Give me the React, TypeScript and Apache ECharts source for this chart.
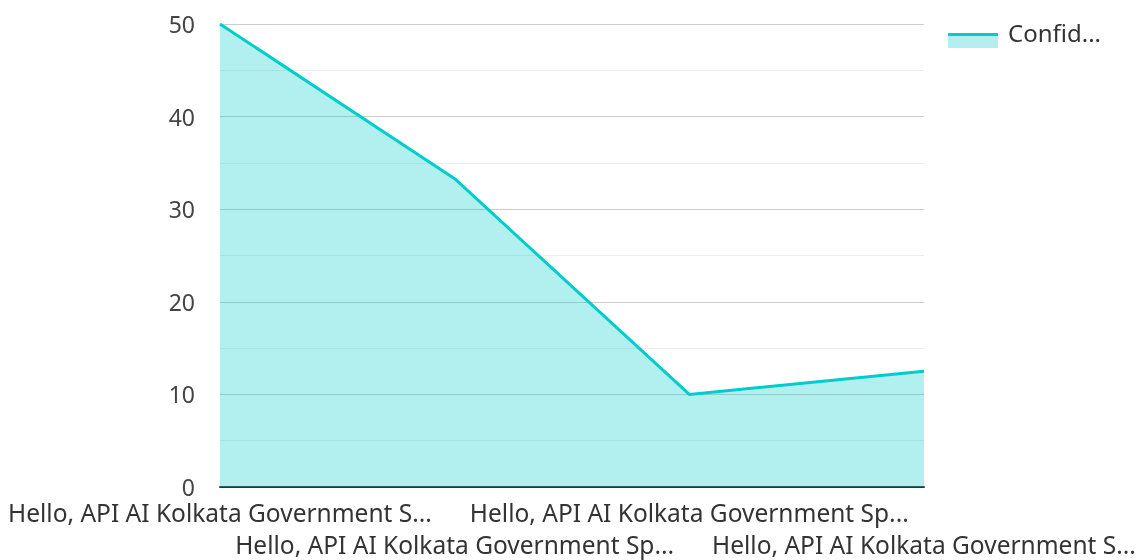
import React, { useEffect, useRef } from "react";
import * as echarts from "echarts";

const categories = [
  "Hello, API AI Kolkata Government S...",
  "Hello, API AI Kolkata Government Sp...",
  "Hello, API AI Kolkata Government Sp...",
  "Hello, API AI Kolkata Government S...",
];
const seriesName = "Confid...";
const values = [50, 33.3, 10, 12.5];
const yTicks = { min: 0, max: 50, interval: 10 };

const FONT = "'Noto Sans', sans-serif";
const LINE = "#00cccc";

export default function App() {
  const ref = useRef<HTMLDivElement>(null);
  useEffect(() => {
    document.body.style.margin = "0";
    document.body.style.overflow = "hidden";
    const chart = echarts.init(ref.current!, null, { renderer: "svg" });
    chart.setOption({
      animation: false,
      textStyle: { fontFamily: FONT },
      grid: { left: 220, right: 216, top: 24, bottom: 70, containLabel: false },
      legend: {
        show: true,
        left: 948,
        top: 15,
        icon: "rect",
        itemWidth: 50,
        itemHeight: 15,
        itemGap: 10,
        itemStyle: { opacity: 0 },
        textStyle: { fontFamily: FONT, fontSize: 24, color: "#333" },
        data: [seriesName],
      },
      xAxis: {
        type: "category",
        data: categories,
        boundaryGap: false,
        axisLine: { show: true, lineStyle: { color: "#333", width: 2 } },
        axisTick: { show: false },
        axisLabel: {
          interval: 0,
          fontFamily: FONT,
          fontSize: 24.5,
          color: "#333",
          lineHeight: 32,
          margin: 9,
          formatter: (v: string, i: number) => (i % 2 === 1 ? "\n" + v : v),
        },
      },
      yAxis: {
        type: "value",
        min: yTicks.min,
        max: yTicks.max,
        interval: yTicks.interval,
        axisLine: { show: false },
        axisTick: { show: false },
        axisLabel: { fontFamily: FONT, fontSize: 23, lineHeight: 14, color: "#444", margin: 25 },
        splitLine: { show: true, lineStyle: { color: "#cccccc", width: 1 } },
        minorTick: { show: false, splitNumber: 2 },
        minorSplitLine: { show: true, lineStyle: { color: "#eeeeee", width: 1 } },
      },
      series: [
        {
          name: seriesName,
          type: "line",
          data: values,
          symbol: "none",
          lineStyle: { color: LINE, width: 3 },
          itemStyle: { color: LINE },
          areaStyle: { color: LINE, opacity: 0.3 },
        },
      ],
      graphic: [
        {
          type: "rect",
          left: 948,
          top: 33,
          shape: { width: 50, height: 15 },
          style: { fill: "#b2efee" },
          z: 100,
        },
        {
          type: "rect",
          left: 948,
          top: 33,
          shape: { width: 50, height: 3 },
          style: { fill: LINE },
          z: 101,
        },
      ],
    });
    return () => chart.dispose();
  }, []);
  return (
    <div
      ref={ref}
      style={{ position: "fixed", left: 0, top: 0, width: 1140, height: 560, overflow: "hidden" }}
    />
  );
}
